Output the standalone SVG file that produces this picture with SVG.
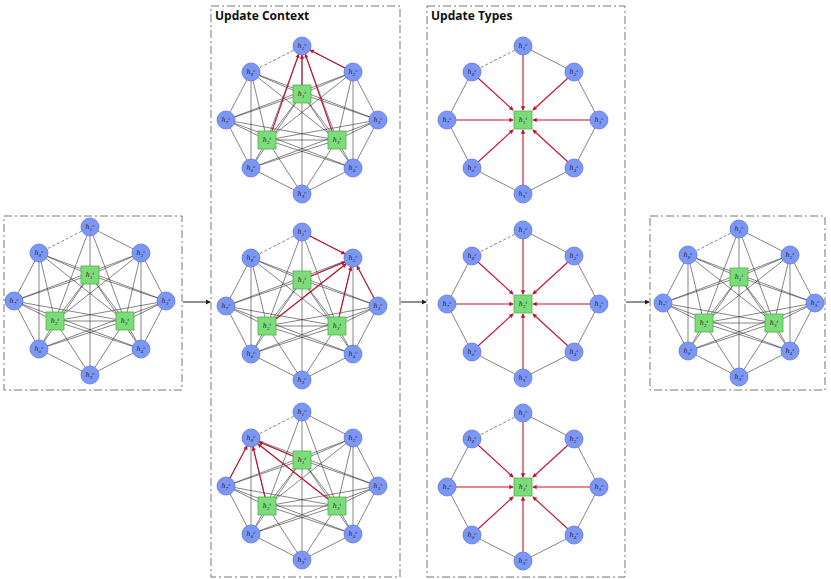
<svg xmlns="http://www.w3.org/2000/svg" width="831" height="579" viewBox="0 0 831 579">
<style>
.box{fill:none;stroke:#777;stroke-width:1;stroke-dasharray:8,3,2,3}
.e{stroke:#333;stroke-width:0.6;fill:none}
.d{stroke:#333;stroke-width:0.6;stroke-dasharray:3,2}
.r{stroke:#c8102e;stroke-width:1.1;fill:none;marker-end:url(#ra)}
.k{stroke:#222;stroke-width:1;fill:none;marker-end:url(#ka)}
.c{fill:#7b96f5;stroke:#5a78e0;stroke-width:0.8}
.s{fill:#7ddc7a;stroke:#4fae4c;stroke-width:0.8}
.l{font-family:"DejaVu Serif",serif;font-style:italic;font-size:6.5px;fill:#222;text-anchor:middle}
.t{font-family:"Open Sans","DejaVu Sans",sans-serif;font-weight:bold;font-size:12px;fill:#111}
</style>
<defs>
<marker id="ra" viewBox="0 0 6 6" refX="5" refY="3" markerWidth="4" markerHeight="4" orient="auto"><path d="M0,0L6,3L0,6z" fill="#c8102e"/></marker>
<marker id="ka" viewBox="0 0 6 6" refX="5" refY="3" markerWidth="5" markerHeight="5" orient="auto"><path d="M0,0L6,3L0,6z" fill="#222"/></marker>
<g id="ring">
<line class="d" x1="-51" y1="-48" x2="0" y2="-74"/>
<path class="e" d="M0,-74L51,-48L76,0L51,48L0,74L-51,48L-76,0L-51,-48"/>
</g>
<g id="full">
<use href="#ring"/>
<path class="e" d="M0,-26L0,-74M0,-26L51,-48M0,-26L76,0M0,-26L51,48M0,-26L0,74M0,-26L-51,48M0,-26L-76,0M0,-26L-51,-48
M-35,20L0,-74M-35,20L51,-48M-35,20L76,0M-35,20L51,48M-35,20L0,74M-35,20L-51,48M-35,20L-76,0M-35,20L-51,-48
M35,20L0,-74M35,20L51,-48M35,20L76,0M35,20L51,48M35,20L0,74M35,20L-51,48M35,20L-76,0M35,20L-51,-48
M0,-26L-35,20L35,20Z M-51,-48L-51,48M51,-48L51,48M-51,-48L76,0M51,-48L-76,0M-76,0L51,48M76,0L-51,48"/>
</g>
<g id="cn">
<circle class="c" cx="0" cy="-74" r="9"/><text class="l" x="0" y="-72">h<tspan font-size="4" dy="1.5">1</tspan><tspan font-size="4" dy="-4">c</tspan></text>
<circle class="c" cx="51" cy="-48" r="9"/><text class="l" x="51" y="-46">h<tspan font-size="4" dy="1.5">2</tspan><tspan font-size="4" dy="-4">c</tspan></text>
<circle class="c" cx="76" cy="0" r="9"/><text class="l" x="76" y="2">h<tspan font-size="4" dy="1.5">3</tspan><tspan font-size="4" dy="-4">c</tspan></text>
<circle class="c" cx="51" cy="48" r="9"/><text class="l" x="51" y="50">h<tspan font-size="4" dy="1.5">4</tspan><tspan font-size="4" dy="-4">c</tspan></text>
<circle class="c" cx="0" cy="74" r="9"/><text class="l" x="0" y="76">h<tspan font-size="4" dy="1.5">5</tspan><tspan font-size="4" dy="-4">c</tspan></text>
<circle class="c" cx="-51" cy="48" r="9"/><text class="l" x="-51" y="50">h<tspan font-size="4" dy="1.5">6</tspan><tspan font-size="4" dy="-4">c</tspan></text>
<circle class="c" cx="-76" cy="0" r="9"/><text class="l" x="-76" y="2">h<tspan font-size="4" dy="1.5">7</tspan><tspan font-size="4" dy="-4">c</tspan></text>
<circle class="c" cx="-51" cy="-48" r="9"/><text class="l" x="-51" y="-46">h<tspan font-size="4" dy="1.5">8</tspan><tspan font-size="4" dy="-4">c</tspan></text>
</g>
<g id="sn">
<rect class="s" x="-9" y="-35" width="18" height="18"/><text class="l" x="0" y="-24">h<tspan font-size="4" dy="1.5">1</tspan><tspan font-size="4" dy="-4">t</tspan></text>
<rect class="s" x="-44" y="11" width="18" height="18"/><text class="l" x="-35" y="22">h<tspan font-size="4" dy="1.5">2</tspan><tspan font-size="4" dy="-4">t</tspan></text>
<rect class="s" x="26" y="11" width="18" height="18"/><text class="l" x="35" y="22">h<tspan font-size="4" dy="1.5">3</tspan><tspan font-size="4" dy="-4">t</tspan></text>
</g>
<g id="tarr">
<use href="#ring"/>
<path class="r" d="M0,-65L0,-10"/><path class="r" d="M45,-42L10,-10"/><path class="r" d="M67,0L10,0"/><path class="r" d="M45,42L10,10"/>
<path class="r" d="M0,65L0,10"/><path class="r" d="M-45,42L-10,10"/><path class="r" d="M-67,0L-10,0"/><path class="r" d="M-45,-42L-10,-10"/>
<use href="#cn"/>
</g>
</defs>

<rect class="box" x="4" y="216" width="178" height="174"/>
<rect class="box" x="211" y="6" width="189" height="571"/>
<rect class="box" x="427" y="6" width="198" height="571"/>
<rect class="box" x="650" y="216" width="175" height="174"/>
<text class="t" x="215" y="20">Update Context</text>
<text class="t" x="431" y="20">Update Types</text>

<g id="connectors">
<line class="k" x1="183" y1="302" x2="210" y2="302"/>
<line class="k" x1="401" y1="302" x2="426" y2="302"/>
<line class="k" x1="626" y1="302" x2="649" y2="302"/>
</g>

<g id="input" transform="translate(90,301)"><use href="#full"/><use href="#cn"/><use href="#sn"/></g>

<g id="ctx1" transform="translate(302,120)"><use href="#full"/>
<path class="r" d="M0,-35L0,-65"/><path class="r" d="M-30,11L-3.4,-65.7"/><path class="r" d="M30,11L3.4,-65.7"/><path class="r" d="M43,-52L8,-70"/>
<use href="#cn"/><use href="#sn"/></g>

<g id="ctx2" transform="translate(302,306)"><use href="#full"/>
<path class="r" d="M8,-70L43,-52"/><path class="r" d="M72,-8L55,-40"/><path class="r" d="M-26,13L44,-42"/><path class="r" d="M9,-30L43,-44"/><path class="r" d="M37,11L49,-39"/>
<use href="#cn"/><use href="#sn"/></g>

<g id="ctx3" transform="translate(302,486)"><use href="#full"/>
<path class="r" d="M-72,-8L-55,-40"/><path class="r" d="M26,13L-44,-42"/><path class="r" d="M-9,-30L-43,-44"/><path class="r" d="M-37,11L-49,-39"/>
<use href="#cn"/><use href="#sn"/></g>

<g id="typ1" transform="translate(523,120)"><use href="#tarr"/><rect class="s" x="-9" y="-9" width="18" height="18"/><text class="l" x="0" y="2">h<tspan font-size="4" dy="1.5">1</tspan><tspan font-size="4" dy="-4">t</tspan></text></g>
<g id="typ2" transform="translate(523,304)"><use href="#tarr"/><rect class="s" x="-9" y="-9" width="18" height="18"/><text class="l" x="0" y="2">h<tspan font-size="4" dy="1.5">2</tspan><tspan font-size="4" dy="-4">t</tspan></text></g>
<g id="typ3" transform="translate(523,487)"><use href="#tarr"/><rect class="s" x="-9" y="-9" width="18" height="18"/><text class="l" x="0" y="2">h<tspan font-size="4" dy="1.5">3</tspan><tspan font-size="4" dy="-4">t</tspan></text></g>

<g id="output" transform="translate(739,303)"><use href="#full"/><use href="#cn"/><use href="#sn"/></g>
</svg>
